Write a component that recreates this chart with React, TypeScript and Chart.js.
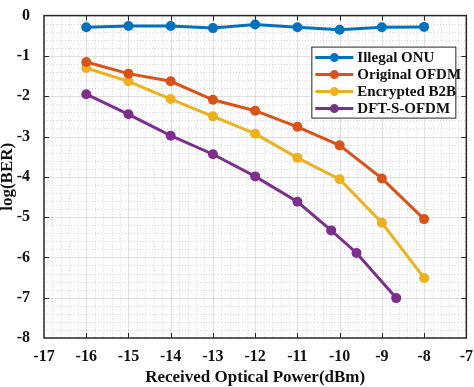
import React, { useEffect, useRef } from "react";
import { Chart, registerables } from "chart.js";

Chart.register(...registerables);

const powerLevels = [-16, -15, -14, -13, -12, -11, -10, -9, -8];
const illegalONU = [-0.29, -0.26, -0.26, -0.31, -0.22, -0.29, -0.35, -0.29, -0.28];
const originalOFDM = [-1.15, -1.44, -1.63, -2.09, -2.36, -2.76, -3.22, -4.04, -5.05];
const encryptedB2B = [-1.3, -1.63, -2.07, -2.5, -2.93, -3.53, -4.06, -5.14, -6.51];
const dftPowerLevels = [-16, -15, -14, -13, -12, -11, -10.2, -9.6, -8.66];
const dftSOFDM = [-1.95, -2.45, -2.98, -3.44, -3.99, -4.62, -5.33, -5.89, -7.01];
const seriesNames = ["Illegal ONU", "Original OFDM", "Encrypted B2B", "DFT-S-OFDM"];
const seriesColors = ["#0072BD", "#D95319", "#EDB120", "#7E2F8E"];
const xRange = [-17, -7];
const yRange = [-8, 0];
const xTitle = "Received Optical Power(dBm)";
const yTitle = "log(BER)";

const FONT = "'Liberation Serif', 'Times New Roman', serif";

const toPoints = (xs: number[], ys: number[]) => xs.map((x, i) => ({ x, y: ys[i] }));

const matlabPlugin = {
  id: "matlabStyle",
  beforeDatasetsDraw(chart: any) {
    const { ctx, chartArea: a, scales } = chart;
    const x = scales.x;
    const y = scales.y;
    ctx.save();
    // minor dotted grid
    ctx.lineWidth = 1;
    ctx.strokeStyle = "rgba(130,130,130,0.3)";
    ctx.setLineDash([1, 2]);
    const nx = (xRange[1] - xRange[0]) * 5;
    for (let i = 1; i < nx; i++) {
      if (i % 5 === 0) continue;
      const px = Math.round(x.getPixelForValue(xRange[0] + i * 0.2)) + 0.5;
      ctx.beginPath();
      ctx.moveTo(px, a.top);
      ctx.lineTo(px, a.bottom);
      ctx.stroke();
    }
    const ny = (yRange[1] - yRange[0]) * 5;
    for (let i = 1; i < ny; i++) {
      if (i % 5 === 0) continue;
      const py = Math.round(y.getPixelForValue(yRange[0] + i * 0.2)) + 0.5;
      ctx.beginPath();
      ctx.moveTo(a.left, py);
      ctx.lineTo(a.right, py);
      ctx.stroke();
    }
    // major grid
    ctx.setLineDash([]);
    ctx.strokeStyle = "rgba(0,0,0,0.12)";
    for (let v = xRange[0] + 1; v < xRange[1]; v++) {
      const px = Math.round(x.getPixelForValue(v)) + 0.5;
      ctx.beginPath();
      ctx.moveTo(px, a.top);
      ctx.lineTo(px, a.bottom);
      ctx.stroke();
    }
    for (let v = yRange[0] + 1; v < yRange[1]; v++) {
      const py = Math.round(y.getPixelForValue(v)) + 0.5;
      ctx.beginPath();
      ctx.moveTo(a.left, py);
      ctx.lineTo(a.right, py);
      ctx.stroke();
    }
    ctx.restore();
  },
  afterDraw(chart: any) {
    const { ctx, chartArea: a, scales, data } = chart;
    const x = scales.x;
    const y = scales.y;
    ctx.save();
    // box
    ctx.strokeStyle = "#262626";
    ctx.lineWidth = 1.5;
    ctx.strokeRect(a.left, a.top, a.right - a.left, a.bottom - a.top);
    // inner ticks
    ctx.lineWidth = 1;
    const tl = 5;
    for (let v = xRange[0] + 1; v < xRange[1]; v++) {
      const px = Math.round(x.getPixelForValue(v)) + 0.5;
      ctx.beginPath();
      ctx.moveTo(px, a.bottom);
      ctx.lineTo(px, a.bottom - tl);
      ctx.moveTo(px, a.top);
      ctx.lineTo(px, a.top + tl);
      ctx.stroke();
    }
    for (let v = yRange[0] + 1; v < yRange[1]; v++) {
      const py = Math.round(y.getPixelForValue(v)) + 0.5;
      ctx.beginPath();
      ctx.moveTo(a.left, py);
      ctx.lineTo(a.left + tl, py);
      ctx.moveTo(a.right, py);
      ctx.lineTo(a.right - tl, py);
      ctx.stroke();
    }
    // axis titles
    ctx.fillStyle = "#111";
    ctx.font = `bold 17px ${FONT}`;
    ctx.textAlign = "center";
    ctx.textBaseline = "middle";
    ctx.fillText(xTitle, (a.left + a.right) / 2, 378);
    ctx.save();
    ctx.translate(8, (a.top + a.bottom) / 2);
    ctx.rotate(-Math.PI / 2);
    ctx.fillText(yTitle, 0, 0);
    ctx.restore();
    // legend
    const lx = a.right - 155;
    const ly = a.top + 31;
    const lw = 144;
    const lh = 71;
    ctx.fillStyle = "#ffffff";
    ctx.fillRect(lx, ly, lw, lh);
    ctx.strokeStyle = "#262626";
    ctx.lineWidth = 1;
    ctx.strokeRect(lx + 0.5, ly + 0.5, lw, lh);
    ctx.font = `bold 15px ${FONT}`;
    ctx.textAlign = "left";
    ctx.textBaseline = "middle";
    data.datasets.forEach((ds: any, i: number) => {
      const cy = ly + 11 + i * 17;
      ctx.strokeStyle = ds.borderColor;
      ctx.lineWidth = 3;
      ctx.beginPath();
      ctx.moveTo(lx + 4, cy);
      ctx.lineTo(lx + 42, cy);
      ctx.stroke();
      ctx.fillStyle = ds.backgroundColor;
      ctx.beginPath();
      ctx.arc(lx + 23, cy, 4.5, 0, Math.PI * 2);
      ctx.fill();
      ctx.fillStyle = "#111";
      ctx.fillText(ds.label, lx + 46, cy + 1);
    });
    ctx.restore();
  },
};

export default function App() {
  const ref = useRef<HTMLCanvasElement | null>(null);
  useEffect(() => {
    if (!ref.current) return;
    const seriesY = [illegalONU, originalOFDM, encryptedB2B, dftSOFDM];
    const seriesX = [powerLevels, powerLevels, powerLevels, dftPowerLevels];
    const chart = new Chart(ref.current, {
      type: "line",
      data: {
        datasets: seriesNames.map((name, i) => ({
          label: name,
          data: toPoints(seriesX[i], seriesY[i]),
          borderColor: seriesColors[i],
          backgroundColor: seriesColors[i],
          borderWidth: 3,
          pointRadius: 5,
          pointBorderWidth: 0,
          pointBackgroundColor: seriesColors[i],
          tension: 0,
        })),
      },
      options: {
        responsive: false,
        animation: false,
        layout: { padding: { top: 5, right: 6, left: 0, bottom: 0 } },
        plugins: { legend: { display: false }, tooltip: { enabled: false } },
        scales: {
          x: {
            type: "linear",
            min: xRange[0],
            max: xRange[1],
            grid: { display: false },
            border: { display: false },
            ticks: {
              stepSize: 1,
              padding: 1,
              color: "#111",
              font: { family: FONT, size: 16, weight: "bold" },
              maxRotation: 0,
              autoSkip: false,
            },
            afterFit: (s: any) => {
              s.height = 49;
            },
          },
          y: {
            type: "linear",
            min: yRange[0],
            max: yRange[1],
            grid: { display: false },
            border: { display: false },
            ticks: {
              stepSize: 1,
              padding: 6,
              color: "#111",
              font: { family: FONT, size: 16, weight: "bold" },
            },
            afterFit: (s: any) => {
              s.width = 44;
            },
          },
        },
      },
      plugins: [matlabPlugin],
    });
    return () => chart.destroy();
  }, []);
  return (
    <div style={{ position: "absolute", left: 0, top: 0, width: 474, height: 387, background: "#fff" }}>
      <canvas ref={ref} width={474} height={387} />
    </div>
  );
}
